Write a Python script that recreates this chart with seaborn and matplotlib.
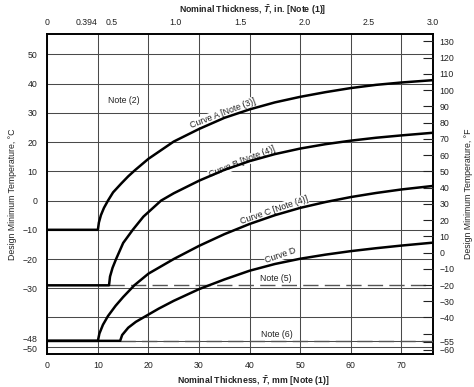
import numpy as np
import pandas as pd
import matplotlib
matplotlib.use("Agg")
import matplotlib.pyplot as plt
import matplotlib.transforms as mtransforms
import seaborn as sns

## data (thickness in mm, temperature in deg C)
thk_A = [0, 10, 10.2, 10.6, 11.2, 12, 13, 14.6, 16, 17.4, 20, 25, 30, 35, 40, 45, 50, 55, 60, 65, 70, 76.2]
temp_A = [-10, -10, -7.5, -5, -2.5, 0, 2.8, 5.8, 8.3, 10.5, 14.3, 20.2, 24.5, 28.3, 31.2, 33.6, 35.5, 37.1, 38.5, 39.6, 40.4, 41.2]

thk_B = [0, 12.2, 12.4, 12.9, 13.6, 15, 16.9, 19, 22.5, 25, 30, 35, 40, 45, 50, 55, 60, 65, 70, 76.2]
temp_B = [-29, -29, -26, -23, -20, -14.5, -10, -5.5, 0, 2.5, 6.8, 10.5, 13.5, 15.9, 17.8, 19.3, 20.5, 21.5, 22.3, 23.2]

thk_C = [0, 10, 10.3, 11, 12, 13.5, 15, 17.2, 20, 25, 30, 35, 40, 45, 50, 55, 60, 65, 70, 76.2]
temp_C = [-48, -48, -45.5, -42.5, -39.5, -36, -33, -29, -25, -20, -15.5, -11.5, -8, -5, -2.5, -0.5, 1.2, 2.6, 3.8, 5]

thk_D = [0, 14.4, 14.8, 16, 17.5, 19.2, 22, 25, 30, 35, 40, 45, 50, 55, 60, 65, 70, 76.2]
temp_D = [-48, -48, -46, -43.5, -41.5, -39.8, -37, -34.3, -30.3, -27, -24, -21.7, -19.9, -18.5, -17.3, -16.3, -15.4, -14.4]

note5_thk = [12.2, 76.2]
note5_temp = [-29, -29]
note6_thk = [14.4, 76.2]
note6_temp = [-48, -48]

left_ticks = [-50, -48, -40, -30, -20, -10, 0, 10, 20, 30, 40, 50]
left_labels = ['\u221250', '\u221248', '', '\u221230', '\u221220', '\u221210', '0', '10', '20', '30', '40', '50']
right_ticks = [-60, -55, -50, -40, -30, -20, -10, 0, 10, 20, 30, 40, 50, 60, 70, 80, 90, 100, 110, 120, 130]
bottom_ticks = [0, 10, 20, 30, 40, 50, 60, 70]
top_ticks = [0, 0.394, 0.5, 1.0, 1.5, 2.0, 2.5, 3.0]
top_labels = ['0', '0.394', '0.5', '1.0', '1.5', '2.0', '2.5', '3.0']
top_minor = [0.5, 1.0, 1.5, 2.0, 2.5]

# label text, x (mm), y (C), rotation
annot = [
    ("Note (2)", 15.1, 34.4, 0),
    ("Curve A [Note (3)]", 34.8, 30.0, 21),
    ("Curve B [Note (4)]", 38.5, 13.2, 22),
    ("Curve C [Note (4)]", 44.8, -3.2, 19),
    ("Curve D", 46.1, -18.7, 19),
    ("Note (5)", 45.2, -26.6, 0),
    ("Note (6)", 45.4, -45.7, 0),
]

sns.set_style("white")
plt.rcParams['font.family'] = ['Liberation Sans', 'DejaVu Sans']
plt.rcParams['mathtext.fontset'] = 'custom'
plt.rcParams['mathtext.it'] = 'Liberation Sans:italic:bold'
plt.rcParams['mathtext.rm'] = 'Liberation Sans:bold'

fs = 6.3
grid_col = '#4a4a4a'
txt_col = '#222222'

fig = plt.figure(figsize=(4.74, 3.87), dpi=100)
ax = fig.add_axes([0.0998, 0.0845, 0.8131, 0.8284])

xmin, xmax = 0, 76.2
ymin, ymax = -52.6, 57.1
ax.set_xlim(xmin, xmax)
ax.set_ylim(ymin, ymax)

# grid
ax.set_xticks(bottom_ticks)
ax.set_xticklabels([str(t) for t in bottom_ticks], fontsize=fs)
ax.set_yticks(left_ticks)
ylabs = ax.set_yticklabels(left_labels, fontsize=fs)
ax.grid(True, color=grid_col, lw=0.75)
ax.tick_params(axis='both', length=0, colors=txt_col)
ax.tick_params(axis='x', pad=5)
ax.tick_params(axis='y', pad=7)

# squeeze -48 / -50 apart a little
ylabs[1].set_transform(ylabs[1].get_transform() + mtransforms.ScaledTranslation(0, 1.5 / 72, fig.dpi_scale_trans))
ylabs[0].set_transform(ylabs[0].get_transform() + mtransforms.ScaledTranslation(0, -1.5 / 72, fig.dpi_scale_trans))

# curves
frames = []
for name, xs, ys in [('A', thk_A, temp_A), ('B', thk_B, temp_B), ('C', thk_C, temp_C), ('D', thk_D, temp_D)]:
    frames.append(pd.DataFrame({'thk': xs, 'temp': ys, 'curve': name}))
df = pd.concat(frames, ignore_index=True)
sns.lineplot(data=df, x='thk', y='temp', hue='curve', palette=['black'] * 4,
             estimator=None, sort=False, legend=False, lw=1.8, ax=ax, zorder=4)

for xs, ys in [(note5_thk, note5_temp), (note6_thk, note6_temp)]:
    sns.lineplot(x=xs, y=ys, color='#555555', lw=1.0, linestyle=(0, (11, 4.5)),
                 estimator=None, sort=False, ax=ax, zorder=3)

for txt, x, y, rot in annot:
    ax.text(x, y, txt, fontsize=fs, rotation=rot, rotation_mode='anchor',
            ha='center', va='center', color=txt_col, zorder=3.5,
            bbox=dict(facecolor='white', edgecolor='none', pad=0.3))

for sp in ax.spines.values():
    sp.set_color('black')
    sp.set_linewidth(1.4)

ax.set_xlabel(r"Nominal Thickness, $\bar{T}$, mm [Note (1)]", fontsize=fs, fontweight='bold', color=txt_col)
ax.xaxis.set_label_coords(0.534, -0.063)
ax.set_ylabel("Design Minimum Temperature, \u00b0C", fontsize=fs, color=txt_col)
ax.yaxis.set_label_coords(-0.079, 0.5)

# right axis in F
axR = ax.twinx()
axR.set_ylim(ymin * 9 / 5 + 32, ymax * 9 / 5 + 32)
axR.set_yticks(right_ticks)
axR.set_yticklabels([('' if t == -50 else str(t).replace('-', '\u2212')) for t in right_ticks], fontsize=fs)
axR.tick_params(axis='y', direction='in', length=7, width=0.8, pad=5, colors=txt_col)
axR.set_ylabel("Design Minimum Temperature, \u00b0F", fontsize=fs, color=txt_col)
axR.yaxis.set_label_coords(1.08, 0.5)
for sp in axR.spines.values():
    sp.set_visible(False)

# top axis in inches
axT = ax.twiny()
axT.set_xlim(xmin / 25.4, xmax / 25.4)
axT.set_xticks(top_ticks)
tlabs = axT.set_xticklabels(top_labels, fontsize=fs)
tlabs[1].set_ha('right')
tlabs[1].set_transform(tlabs[1].get_transform() + mtransforms.ScaledTranslation(-2 / 72, 0, fig.dpi_scale_trans))
axT.set_xticks(top_minor, minor=True)
axT.tick_params(axis='x', which='major', length=0, pad=5, colors=txt_col)
axT.tick_params(axis='x', which='minor', direction='in', length=11, width=0.8, color='#444444')
axT.set_xlabel(r"Nominal Thickness, $\bar{T}$, in. [Note (1)]", fontsize=fs, fontweight='bold', color=txt_col)
axT.xaxis.set_label_coords(0.534, 1.064)
for sp in axT.spines.values():
    sp.set_visible(False)

fig.savefig("out.png", dpi=100)
